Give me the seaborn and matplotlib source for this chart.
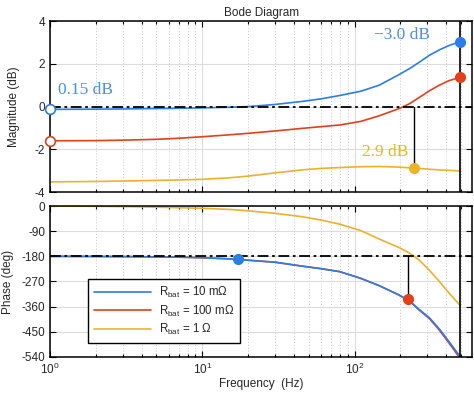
import numpy as np
import pandas as pd
import matplotlib
matplotlib.use("Agg")
import matplotlib.pyplot as plt
from matplotlib.ticker import LogLocator, NullFormatter, FixedLocator
import seaborn as sns

# ---------------- data ----------------
freq = [1, 2, 3, 5, 7, 10, 15, 20, 30, 45, 60, 80, 110, 145, 195, 230, 265, 310, 360, 415, 495]
mag_10m = [-0.13, -0.12, -0.11, -0.09, -0.08, -0.06, -0.03, 0.0, 0.10, 0.24, 0.36, 0.52,
           0.72, 1.00, 1.49, 1.78, 2.07, 2.40, 2.65, 2.85, 3.04]
mag_100m = [-1.60, -1.59, -1.57, -1.53, -1.48, -1.41, -1.32, -1.25, -1.14, -1.02, -0.94, -0.86,
            -0.69, -0.43, -0.10, 0.14, 0.42, 0.74, 1.00, 1.21, 1.37]
mag_1 = [-3.52, -3.50, -3.48, -3.45, -3.43, -3.40, -3.33, -3.25, -3.10, -2.96, -2.89, -2.85,
         -2.81, -2.80, -2.83, -2.86, -2.89, -2.93, -2.96, -2.98, -3.01]
ph_10m = [-180, -180.5, -181, -182, -183, -185, -189, -194, -201, -215, -224, -235,
          -259, -285, -318, -340, -370, -400, -440, -484, -540]
ph_100m = [-180, -180.5, -181, -182, -183, -185, -189, -194, -201, -215, -224, -235,
           -259, -285, -318, -341, -372, -403, -444, -489, -547]
ph_1 = [0, -1, -2, -4, -6, -8, -12, -17, -26, -38, -50, -65,
        -88, -118, -148, -169, -193, -230, -270, -310, -357]

labels = [r"R$_{\mathrm{bat}}$ = 10 m$\Omega$",
          r"R$_{\mathrm{bat}}$ = 100 m$\Omega$",
          r"R$_{\mathrm{bat}}$ = 1 $\Omega$"]
colors = ["#2b7de9", "#e2401c", "#edb12c"]

f_end = 495
mag_end = [3.04, 1.37]
mag_start = [-0.13, -1.60]
f_gm = 247
mag_gm = -2.89
f_pm_blue = 17.2
ph_pm_blue = -191
f_pm_red = 223
ph_pm_red = -333

x_ticks = [1, 10, 100]
mag_ticks = [-4, -2, 0, 2, 4]
ph_ticks = [0, -90, -180, -270, -360, -450, -540]

# ---------------- style ----------------
sns.set_style("ticks")
plt.rcParams['font.family'] = ['Liberation Sans', 'DejaVu Sans']
plt.rcParams['mathtext.fontset'] = 'custom'
plt.rcParams['mathtext.rm'] = 'Liberation Sans'
plt.rcParams['mathtext.it'] = 'Liberation Sans:italic'
plt.rcParams['font.size'] = 8.5

n = len(freq)
df_mag = pd.DataFrame({
    "f": freq * 3,
    "v": mag_10m + mag_100m + mag_1,
    "s": [labels[0]] * n + [labels[1]] * n + [labels[2]] * n,
})
df_ph = pd.DataFrame({
    "f": freq * 3,
    "v": ph_100m + ph_10m + ph_1,
    "s": [labels[1]] * n + [labels[0]] * n + [labels[2]] * n,
})

fig = plt.figure(figsize=(4.74, 3.97), dpi=100)
ax1 = fig.add_axes([0.1055, 0.516, 0.8903, 0.431])
ax2 = fig.add_axes([0.1055, 0.101, 0.8903, 0.380])

pal = dict(zip(labels, colors))
sns.lineplot(data=df_mag, x="f", y="v", hue="s", palette=pal, hue_order=labels,
             ax=ax1, lw=1.2, legend=False, sort=False)
sns.lineplot(data=df_ph, x="f", y="v", hue="s", palette=pal,
             hue_order=[labels[1], labels[0], labels[2]],
             ax=ax2, lw=1.2, legend=False, sort=False)

for ax in (ax1, ax2):
    ax.set_xscale("log")
    ax.set_xlim(1, 590)
    ax.xaxis.set_major_locator(FixedLocator(x_ticks))
    ax.xaxis.set_minor_locator(LogLocator(base=10, subs=np.arange(2, 10)))
    ax.xaxis.set_minor_formatter(NullFormatter())
    ax.grid(True, which="major", color="#dcdcdc", lw=0.8, ls="-")
    ax.grid(True, which="minor", axis="x", color="#c8c8c8", lw=0.7, ls=(0, (1, 2)))
    ax.set_axisbelow(True)
    ax.tick_params(which="both", direction="in", top=True, right=True,
                   color="black", labelsize=8.5, width=0.8)
    ax.tick_params(which="major", length=4)
    ax.tick_params(which="minor", length=2.5)
    for sp in ax.spines.values():
        sp.set_color("black")
        sp.set_linewidth(1.1)
    ax.axvline(f_end, color="black", lw=1.2, zorder=3)
    ax.set_xlabel("")

# magnitude axes
ax1.set_ylim(-4, 4)
ax1.set_yticks(mag_ticks)
ax1.set_yticklabels([str(t) for t in mag_ticks])
ax1.set_xticklabels([])
ax1.axhline(0, color="black", lw=1.3, ls=(0, (6, 2, 1.5, 2)), zorder=2)
ax1.plot([f_gm, f_gm], [0, mag_gm], color="black", lw=1.0, zorder=3)
for c, y in zip(colors[:2], mag_start):
    ax1.plot([1], [y], ls="none", marker="o", ms=7, mfc="white", mec=c,
             mew=1.2, clip_on=False, zorder=6)
for c, y in zip(colors[:2], mag_end):
    ax1.plot([f_end], [y], ls="none", marker="o", ms=7, color=c,
             clip_on=False, zorder=6)
ax1.plot([f_gm], [mag_gm], ls="none", marker="o", ms=7, color=colors[2], zorder=6)
ax1.set_ylabel("Magnitude (dB)", fontsize=8.5)
ax1.yaxis.set_label_coords(-0.071, 0.5)

serif = ['Liberation Serif', 'DejaVu Serif']
ax1.text(1.12, 0.78, "0.15 dB", color="#4a90e2", fontsize=12.5, family=serif,
         ha="left", va="center")
ax1.text(135, 3.35, "\u22123.0 dB", color="#4a90e2", fontsize=12.5, family=serif,
         ha="left", va="center")
ax1.text(111, -2.12, "2.9 dB", color="#e8b820", fontsize=12.5, family=serif,
         ha="left", va="center")

# phase axes
ax2.set_ylim(-540, 0)
ax2.set_yticks(ph_ticks)
ax2.set_yticklabels([str(t) for t in ph_ticks])
ax2.set_xticklabels([r"$10^{0}$", r"$10^{1}$", r"$10^{2}$"])
ax2.axhline(-180, color="black", lw=1.3, ls=(0, (6, 2, 1.5, 2)), zorder=2)
ax2.plot([f_pm_red, f_pm_red], [-180, ph_pm_red], color="black", lw=1.0, zorder=3)
ax2.plot([f_pm_blue], [ph_pm_blue], ls="none", marker="o", ms=7, color=colors[0], zorder=6)
ax2.plot([f_pm_red], [ph_pm_red], ls="none", marker="o", ms=7, color=colors[1], zorder=6)
ax2.set_ylabel("Phase (deg)", fontsize=8.5)
ax2.yaxis.set_label_coords(-0.085, 0.5)
ax2.set_xlabel("Frequency  (Hz)", fontsize=8.5, labelpad=1)

handles = [plt.Line2D([], [], color=c, lw=1.2) for c in colors]
leg = ax2.legend(handles, labels, loc="lower left", bbox_to_anchor=(0.09, 0.093),
                 borderaxespad=0, frameon=True, fancybox=False, edgecolor="black",
                 framealpha=1, handlelength=5.0, fontsize=8.3, borderpad=0.5,
                 labelspacing=0.3, handletextpad=0.7)
leg.get_frame().set_linewidth(1.0)

fig.text(0.5525, 0.968, "Bode Diagram", ha="center", va="center", fontsize=8.5)

fig.savefig("out.png", dpi=100)
